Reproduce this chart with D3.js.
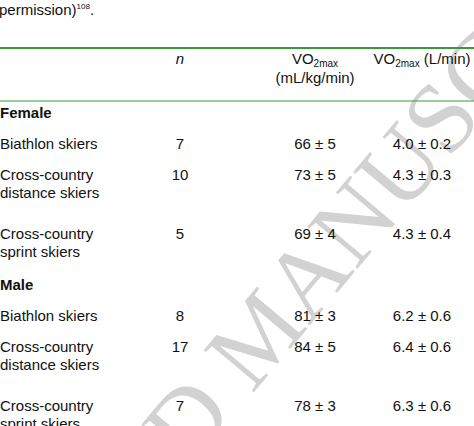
<!DOCTYPE html>
<html><head><meta charset="utf-8">
<script src="https://cdn.jsdelivr.net/npm/d3@7"></script>
<style>body{margin:0;background:#fff;overflow:hidden}</style>
</head><body><div id="container"></div>
<script>
// table content
const groups = ['Female', 'Male'];
const labels = [
  ['Biathlon skiers'],
  ['Cross-country', 'distance skiers'],
  ['Cross-country', 'sprint skiers']
];
const nValues = [[7, 10, 5], [8, 17, 7]];
const vo2Rel = [['66 ± 5', '73 ± 5', '69 ± 4'], ['81 ± 3', '84 ± 5', '78 ± 3']];
const vo2Abs = [['4.0 ± 0.2', '4.3 ± 0.3', '4.3 ± 0.4'], ['6.2 ± 0.6', '6.4 ± 0.6', '6.3 ± 0.6']];

const w = 474, h = 426;
const font = 'Liberation Sans, Arial, sans-serif';
const svg = d3.select('#container').append('svg').attr('width', w).attr('height', h);

// watermark
svg.append('text')
  .attr('transform', 'translate(285,355) rotate(-50)')
  .attr('text-anchor', 'middle')
  .style('font-family', 'Liberation Serif, serif').style('font-size', '100px')
  .style('fill', '#d2d2d2')
  .text('ACCEPTED MANUSCRIPT');

const colX = { label: 0, n: 180, rel: 315, abs: 422 };

const t = svg.append('g').style('font-family', font).style('font-size', '15px').style('fill', '#111');

const intro = t.append('text').attr('x', -1).attr('y', 15).text('permission)');
intro.append('tspan').attr('dy', -6).style('font-size', '8px').text('108');
intro.append('tspan').attr('dy', 6).text('.');

svg.append('line').attr('x1', 0).attr('x2', w).attr('y1', 48).attr('y2', 48)
  .attr('stroke', '#3a9a3a').attr('stroke-width', 2);
svg.append('line').attr('x1', 0).attr('x2', w).attr('y1', 101).attr('y2', 101)
  .attr('stroke', '#3a9a3a').attr('stroke-width', 1.2);

// header
t.append('text').attr('x', colX.n).attr('y', 64).attr('text-anchor', 'middle')
  .style('font-style', 'italic').text('n');
const h1 = t.append('text').attr('x', colX.rel).attr('y', 64).attr('text-anchor', 'middle');
h1.append('tspan').text('VO');
h1.append('tspan').attr('dy', 3).style('font-size', '10px').text('2max');
t.append('text').attr('x', colX.rel).attr('y', 83).attr('text-anchor', 'middle').text('(mL/kg/min)');
const h2 = t.append('text').attr('x', colX.abs).attr('y', 64).attr('text-anchor', 'middle');
h2.append('tspan').text('VO');
h2.append('tspan').attr('dy', 3).style('font-size', '10px').text('2max');
h2.append('tspan').attr('dy', -3).text(' (L/min)');

// body rows
const groupY = [118, 290];
const rowOffsets = [31, 62, 121];
groups.forEach((g, gi) => {
  t.append('text').attr('x', colX.label).attr('y', groupY[gi])
    .style('font-weight', 'bold').text(g);
  labels.forEach((lab, ri) => {
    const y = groupY[gi] + rowOffsets[ri];
    lab.forEach((line, li) => {
      t.append('text').attr('x', colX.label).attr('y', y + li * 18).text(line);
    });
    t.append('text').attr('x', colX.n).attr('y', y).attr('text-anchor', 'middle').text(nValues[gi][ri]);
    t.append('text').attr('x', colX.rel).attr('y', y).attr('text-anchor', 'middle').text(vo2Rel[gi][ri]);
    t.append('text').attr('x', colX.abs).attr('y', y).attr('text-anchor', 'middle').text(vo2Abs[gi][ri]);
  });
});
</script></body></html>
